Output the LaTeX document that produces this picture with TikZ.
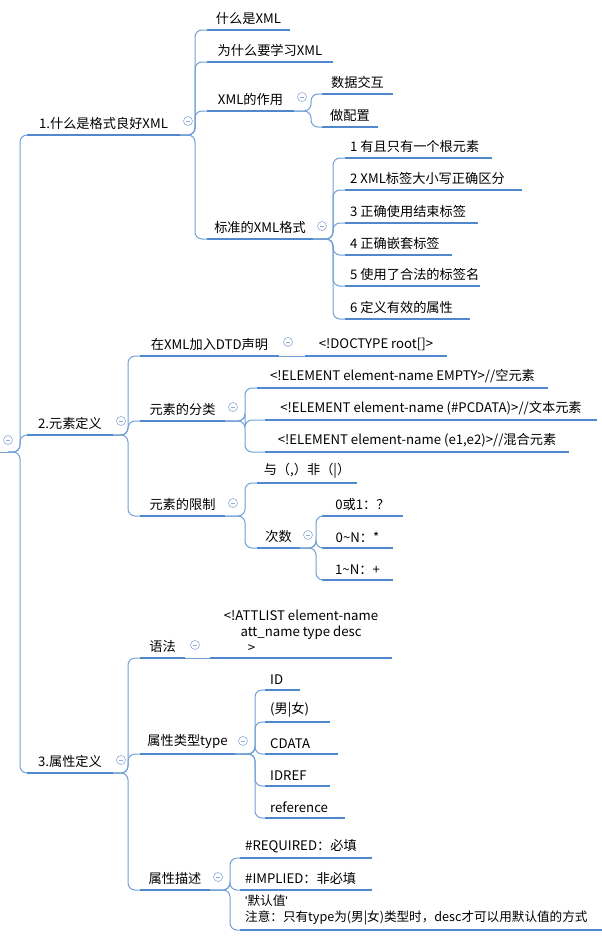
\documentclass[tikz,border=0pt]{standalone}
\usepackage{fontspec}
\setmainfont{Noto Sans CJK SC}
\newfontfamily\latf{Liberation Sans}
\definecolor{ul}{HTML}{4F88CC}
\definecolor{cl}{HTML}{8FAAD8}
\tikzset{
 under/.style={draw=ul,line width=2.6pt},
 conn/.style={draw=ul!80,line width=1pt,rounded corners=7pt},
 lbl/.style={anchor=south,inner sep=1pt,font=\fontsize{13.2}{16}\selectfont,align=center},
 fold/.style={circle,draw=cl,line width=0.6pt,minimum size=9pt,inner sep=0pt}
}
\newcommand{\mm}[5]{%
 \coordinate (#1S) at (#2,#4); \coordinate (#1E) at (#3,#4);
 \draw[under] (#1S) -- (#1E);
 \node[lbl] (#1) at ({(#2+#3)/2},#4-4) {#5};}
\newcommand{\mmL}[5]{%
 \coordinate (#1S) at (#2,#4); \coordinate (#1E) at (#3,#4);
 \draw[under] (#1S) -- (#1E);
 \node[lbl,anchor=south west] (#1) at (#2+4,#4-4) {#5};}
\newcommand{\cn}[3]{%
 \coordinate (tt) at (#3,0);
 \draw[conn] (#1E) -- (tt |- #1E) -- (tt |- #2S) -- (#2S);}
\newcommand{\fd}[3]{\node[fold] (#1) at (#2,#3) {}; \draw[cl,line width=0.6pt] ([xshift=-2.3pt]#1.center) -- ([xshift=2.3pt]#1.center);}
\begin{document}
\begin{tikzpicture}[x=1pt,y=-1pt]
\useasboundingbox (0,0) rectangle (602,948);
% root
\coordinate (rootE) at (8,452);
\draw[conn] (0,452) -- (rootE);
\fd{f0}{8}{440}
% level 1
\mm{a}{27}{180}{135}{1.什么是格式良好XML} \fd{fa}{188}{121}
\mm{b}{27}{113}{435}{2.元素定义} \fd{fb}{121}{421}
\mm{c}{27}{113}{773}{3.属性定义} \fd{fc}{121}{760}
\cn{root}{a}{20}\cn{root}{b}{20}\cn{root}{c}{20}
% branch a
\mm{a1}{207}{290}{30}{什么是XML}
\mm{a2}{207}{333}{62}{为什么要学习XML}
\mm{a3}{207}{294}{111}{XML的作用} \fd{fa3}{302}{97}
\mm{a4}{207}{313}{239}{标准的XML格式} \fd{fa4}{322}{226}
\cn{a}{a1}{195}\cn{a}{a2}{195}\cn{a}{a3}{195}\cn{a}{a4}{195}
\mm{a31}{322}{393}{94}{数据交互}
\mm{a32}{322}{378}{127}{做配置}
\cn{a3}{a31}{311}\cn{a3}{a32}{311}
\mmL{a41}{345}{492}{158}{1 有且只有一个根元素}
\mmL{a42}{345}{522}{190}{2 XML标签大小写正确区分}
\mmL{a43}{345}{478}{223}{3 正确使用结束标签}
\mmL{a44}{345}{452}{255}{4 正确嵌套标签}
\mmL{a45}{345}{480}{286}{5 使用了合法的标签名}
\mmL{a46}{345}{470}{319}{6 定义有效的属性}
\foreach \k in {1,...,6}{\cn{a4}{a4\k}{333}}
% branch b
\mm{b1}{140}{279}{356}{在XML加入DTD声明} \fd{fb1}{288}{342}
\mm{b2}{140}{225}{421}{元素的分类} \fd{fb2}{233}{407}
\mm{b3}{140}{225}{516}{元素的限制} \fd{fb3}{233}{503}
\cn{b}{b1}{128}\cn{b}{b2}{128}\cn{b}{b3}{128}
\mm{b11}{305}{447}{356}{<!DOCTYPE root[]>}
\draw[conn] (b1E) -- (b11S);
\mm{b21}{257}{548}{388}{<!ELEMENT element-name EMPTY>//空元素}
\mm{b22}{265}{597}{420}{<!ELEMENT element-name (\#PCDATA)>//文本元素}
\mm{b23}{265}{569}{452}{<!ELEMENT element-name (e1,e2)>//混合元素}
\cn{b2}{b21}{245}\cn{b2}{b22}{245}\cn{b2}{b23}{245}
\mm{b31}{257}{357}{483}{与（,）非（|）}
\mm{b32}{257}{300}{548}{次数} \fd{fb32}{308}{535}
\cn{b3}{b31}{245}\cn{b3}{b32}{245}
\mm{b321}{322}{403}{516}{0或1：？}
\mm{b322}{322}{393}{548}{0\textasciitilde N：*}
\mm{b323}{322}{393}{580}{1\textasciitilde N：+}
\cn{b32}{b321}{316}\cn{b32}{b322}{316}\cn{b32}{b323}{316}
% branch c
\mm{c1}{140}{185}{658}{语法} \fd{fc1}{195}{645}
\mm{c2}{140}{235}{754}{属性类型type} \fd{fc2}{243}{741}
\mm{c3}{140}{210}{890}{属性描述} \fd{fc3}{218}{877}
\cn{c}{c1}{128}\cn{c}{c2}{128}\cn{c}{c3}{128}
\mm{c11}{210}{392}{658}{<!ATTLIST element-name\\att\_name type desc\\\hspace*{-7.5em}>}
\draw[conn] (c1E) -- (c11S);
\mmL{c21}{265}{300}{690}{ID}
\mmL{c22}{265}{330}{722}{(男|女)}
\mmL{c23}{265}{338}{754}{CDATA}
\mmL{c24}{265}{330}{786}{IDREF}
\mmL{c25}{265}{345}{818}{reference}
\foreach \k in {1,...,5}{\cn{c2}{c2\k}{255}}
\mmL{c31}{240}{372}{858}{\#REQUIRED：必填}
\mmL{c32}{240}{372}{890}{\#IMPLIED：非必填}
\coordinate (c33S) at (240,930); \coordinate (c33E) at (602,930);
\draw[under] (c33S) -- (c33E);
\node[lbl,anchor=south west,align=left,font=\fontsize{12.6}{16}\selectfont] (c33) at (244,926) {{\latf'}默认值{\latf'}\\注意：只有type为(男|女)类型时，desc才可以用默认值的方式};
\cn{c3}{c31}{230}\cn{c3}{c32}{230}\cn{c3}{c33}{230}
\end{tikzpicture}
\end{document}
